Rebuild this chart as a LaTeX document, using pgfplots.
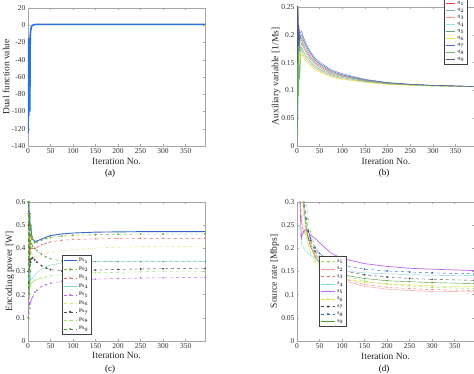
\documentclass[border=0pt]{standalone}
\usepackage{pgfplots}
\pgfplotsset{compat=1.18}
\usepackage{fontspec}
\setmainfont{Liberation Serif}

\definecolor{mblue}{rgb}{0.15,0.45,0.85}
\definecolor{qa}{rgb}{1.0,0.25,0.25}
\definecolor{qb}{rgb}{0.45,0.72,0.72}
\definecolor{qc}{rgb}{1.0,0.6,0.45}
\definecolor{qd}{rgb}{0.6,0.9,0.9}
\definecolor{qe}{rgb}{0.45,0.62,0.55}
\definecolor{qf}{rgb}{0.9,0.9,0.2}
\definecolor{qg}{rgb}{0.3,0.4,0.9}
\definecolor{qh}{rgb}{0.45,0.72,0.4}
\definecolor{qi}{rgb}{0.3,0.35,0.5}
\definecolor{pa}{rgb}{0.2,0.4,0.8}
\definecolor{pb}{rgb}{0.45,0.65,0.2}
\definecolor{pc}{rgb}{0.9,0.4,0.4}
\definecolor{pd}{rgb}{0.5,0.85,0.85}
\definecolor{pe}{rgb}{0.75,0.4,0.9}
\definecolor{pf}{rgb}{0.88,0.9,0.35}
\definecolor{pg}{rgb}{0.3,0.3,0.3}
\definecolor{ph}{rgb}{0.6,0.9,0.4}
\definecolor{pi}{rgb}{0.3,0.6,0.2}
\definecolor{sa}{rgb}{0.6,0.85,0.3}
\definecolor{sb}{rgb}{0.95,0.6,0.6}
\definecolor{sc}{rgb}{0.9,0.45,0.4}

\pgfplotsset{
  base/.style={
    scale only axis, anchor=north west,
    xmin=0, xmax=393, xtick={0,50,...,350},
    tick align=inside, major tick length=2pt,
    axis line style={gray!70}, every tick/.style={gray!70},
    ticklabel style={font=\fontsize{7.5}{8}\selectfont, text=black!80},
    label style={font=\fontsize{9.5}{10}\selectfont, text=black!85},
    /pgf/number format/assume math mode=true,
    xtick pos=both, ytick pos=both,
    xlabel={Iteration No.},
    xticklabel style={yshift=1pt},
    yticklabel style={xshift=1pt},
    scaled y ticks=false,
    clip=true,
  },
  leg/.style={
    legend cell align=left,
    legend style={font=\fontsize{5.5}{6}\selectfont, draw=black!75, line width=0.8pt, fill=white,
      inner sep=1pt, row sep=-0.6pt, anchor=north west},
  },
}

\begin{document}
\begin{tikzpicture}
\path[use as bounding box] (0,0) rectangle (474pt,-374pt);

% (a)
\begin{axis}[base, at={(28pt,-8pt)}, width=177pt, height=138pt,
  ymin=-140, ymax=20, ytick={-140,-120,...,20},
  ylabel={Dual function value},
  xlabel style={at={(axis description cs:0.5,-0.109)}, anchor=center},
  ylabel style={at={(axis description cs:-0.124,0.5)}, anchor=center}]
\addplot[mblue, line width=1.6pt] coordinates {(0,-125)(1,-15)(2,-105)(3,-15)(4,-100)(5,-12)(6,-6)(7,-3)(8,-1)(10,0)(15,0.8)(20,1)(393,1)};
\end{axis}
\node[font=\fontsize{9}{10}\selectfont] at (110pt,-173pt) {(a)};

% (b)
\begin{axis}[base, at={(297pt,-7pt)}, width=178pt, height=139pt,
  ymin=0, ymax=0.25, ytick={0,0.05,...,0.25},
  yticklabel style={/pgf/number format/fixed, /pgf/number format/precision=2},
  ylabel={Auxiliary variable [1/Ms]},
  xlabel style={at={(axis description cs:0.5,-0.109)}, anchor=center},
  ylabel style={at={(axis description cs:-0.118,0.5)}, anchor=center},
  leg, legend style={at={(rel axis cs:0.828,1.065)}},
  legend image code/.code={\draw[#1] (0pt,0pt) -- (9pt,0pt);}]
\addplot[qa, thin] coordinates {(0,0)(1,0.3)(2,0.28)(3,0.24)(4,0.22)(5,0.21)(6,0.2)(8,0.195)(10,0.19)(15,0.18)(20,0.172)(30,0.159)(40,0.15)(50,0.144)(75,0.132)(100,0.126)(150,0.118)(200,0.113)(250,0.11)(300,0.109)(393,0.107)};
\addplot[qb, thin] coordinates {(0,0)(1,0.3)(2,0.05)(3,0.25)(4,0.12)(5,0.2)(6,0.18)(8,0.19)(10,0.195)(15,0.184)(20,0.176)(30,0.162)(40,0.153)(50,0.146)(75,0.133)(100,0.127)(150,0.118)(200,0.113)(250,0.111)(300,0.109)(393,0.107)};
\addplot[qc, thin] coordinates {(0,0)(1,0.3)(2,0.3)(3,0.22)(4,0.2)(5,0.18)(6,0.175)(8,0.172)(10,0.17)(15,0.162)(20,0.156)(30,0.147)(40,0.14)(50,0.135)(75,0.126)(100,0.121)(150,0.115)(200,0.111)(250,0.11)(300,0.108)(393,0.107)};
\addplot[qd, thin] coordinates {(0,0)(1,0.2)(2,0.05)(3,0.18)(4,0.1)(5,0.14)(6,0.13)(8,0.16)(10,0.175)(15,0.167)(20,0.16)(30,0.15)(40,0.142)(50,0.137)(75,0.127)(100,0.123)(150,0.116)(200,0.112)(250,0.11)(300,0.108)(393,0.107)};
\addplot[qe, thin] coordinates {(0,0)(1,0.3)(2,0.1)(3,0.22)(4,0.15)(5,0.19)(6,0.17)(8,0.18)(10,0.185)(15,0.176)(20,0.168)(30,0.156)(40,0.148)(50,0.141)(75,0.13)(100,0.125)(150,0.117)(200,0.112)(250,0.11)(300,0.109)(393,0.107)};
\addplot[qf, thin] coordinates {(0,0)(1,0.3)(2,0.3)(3,0.25)(4,0.15)(5,0.17)(6,0.14)(8,0.16)(10,0.165)(15,0.158)(20,0.152)(30,0.144)(40,0.137)(50,0.133)(75,0.124)(100,0.12)(150,0.115)(200,0.111)(250,0.109)(300,0.108)(393,0.107)};
\addplot[qg, thin] coordinates {(0,0)(1,0.3)(2,0.25)(3,0.23)(4,0.2)(5,0.21)(6,0.2)(8,0.205)(10,0.206)(15,0.194)(20,0.184)(30,0.169)(40,0.158)(50,0.151)(75,0.137)(100,0.13)(150,0.12)(200,0.114)(250,0.111)(300,0.109)(393,0.107)};
\addplot[qh, thin] coordinates {(0,0)(1,0.3)(2,0.02)(3,0.2)(4,0.09)(5,0.15)(6,0.12)(8,0.165)(10,0.178)(15,0.169)(20,0.162)(30,0.152)(40,0.144)(50,0.138)(75,0.128)(100,0.123)(150,0.116)(200,0.112)(250,0.11)(300,0.108)(393,0.107)};
\addplot[qi, thin] coordinates {(0,0)(1,0.3)(2,0.15)(3,0.22)(4,0.18)(5,0.2)(6,0.19)(8,0.198)(10,0.2)(15,0.189)(20,0.18)(30,0.166)(40,0.155)(50,0.148)(75,0.135)(100,0.128)(150,0.119)(200,0.114)(250,0.111)(300,0.109)(393,0.107)};
\legend{$q_1$,$q_2$,$q_3$,$q_4$,$q_5$,$q_6$,$q_7$,$q_8$,$q_9$}
\end{axis}
\node[font=\fontsize{9}{10}\selectfont] at (384pt,-173pt) {(b)};

% (c)
\begin{axis}[base, at={(28pt,-202pt)}, width=177pt, height=139pt,
  ymin=0, ymax=0.6, ytick={0,0.1,...,0.6},
  yticklabel style={/pgf/number format/fixed, /pgf/number format/precision=1},
  ylabel={Encoding power [W]},
  xlabel style={at={(axis description cs:0.5,-0.101)}, anchor=center},
  ylabel style={at={(axis description cs:-0.102,0.5)}, anchor=center},
  leg, legend style={at={(rel axis cs:0.191,0.619)}},
  legend image code/.code={\draw[#1, mark repeat=2, mark phase=2] plot coordinates {(0pt,0pt) (6.5pt,0pt) (13pt,0pt)};},
  every axis plot/.append style={mark size=0.7pt, mark options={solid}}]
\addplot[pa, line width=0.9pt] coordinates {(0,0.6)(1,0.55)(2,0.6)(3,0.5)(4,0.55)(5,0.48)(6,0.5)(8,0.46)(10,0.44)(15,0.43)(20,0.432)(30,0.44)(40,0.448)(50,0.455)(75,0.462)(100,0.466)(150,0.47)(200,0.471)(250,0.472)(300,0.472)(393,0.472)};
\addplot[pb, dashed, mark=*] coordinates {(0,0.6)(1,0.35)(2,0.6)(3,0.4)(4,0.55)(5,0.42)(6,0.5)(8,0.45)(10,0.44)(15,0.425)(20,0.428)(30,0.435)(40,0.442)(50,0.447)(75,0.453)(100,0.456)(150,0.459)(200,0.461)(250,0.462)(300,0.462)(393,0.462)};
\addplot[pc, dashed, mark=x] coordinates {(0,0.55)(1,0.3)(2,0.5)(3,0.35)(4,0.45)(5,0.38)(6,0.42)(8,0.4)(10,0.4)(15,0.4)(20,0.405)(30,0.415)(40,0.422)(50,0.428)(75,0.435)(100,0.438)(150,0.441)(200,0.442)(250,0.443)(300,0.443)(393,0.443)};
\addplot[pd] coordinates {(0,0.3)(1,0.5)(2,0.2)(3,0.4)(4,0.25)(5,0.3)(6,0.26)(8,0.27)(10,0.27)(15,0.285)(20,0.295)(30,0.31)(40,0.32)(50,0.328)(75,0.336)(100,0.34)(150,0.343)(200,0.344)(250,0.345)(300,0.345)(393,0.345)};
\addplot[pe, dashed, mark=triangle*] coordinates {(0,0.1)(1,0.3)(2,0.12)(3,0.2)(4,0.14)(5,0.16)(6,0.17)(8,0.18)(10,0.19)(15,0.21)(20,0.22)(30,0.235)(40,0.243)(50,0.249)(75,0.257)(100,0.262)(150,0.267)(200,0.27)(250,0.272)(300,0.273)(393,0.274)};
\addplot[pf, dashed] coordinates {(0,0.6)(1,0.3)(2,0.55)(3,0.35)(4,0.5)(5,0.4)(6,0.45)(8,0.38)(10,0.37)(15,0.365)(20,0.367)(30,0.372)(40,0.377)(50,0.381)(75,0.389)(100,0.395)(150,0.401)(200,0.405)(250,0.407)(300,0.408)(393,0.409)};
\addplot[pg, dashed, mark=*] coordinates {(0,0.3)(1,0.5)(2,0.25)(3,0.4)(4,0.3)(5,0.35)(6,0.34)(8,0.355)(10,0.36)(15,0.35)(20,0.34)(30,0.325)(40,0.315)(50,0.308)(75,0.302)(100,0.302)(150,0.306)(200,0.309)(250,0.311)(300,0.312)(393,0.313)};
\addplot[ph, dashed, mark=x] coordinates {(0,0.1)(1,0.4)(2,0.15)(3,0.3)(4,0.2)(5,0.25)(6,0.24)(8,0.25)(10,0.255)(15,0.262)(20,0.266)(30,0.272)(40,0.277)(50,0.281)(75,0.287)(100,0.291)(150,0.295)(200,0.297)(250,0.299)(300,0.3)(393,0.3)};
\addplot[pi, dashed, mark=star] coordinates {(0,0.6)(1,0.1)(2,0.6)(3,0.2)(4,0.55)(5,0.3)(6,0.5)(8,0.42)(10,0.41)(15,0.4)(20,0.39)(30,0.375)(40,0.363)(50,0.355)(75,0.345)(100,0.342)(150,0.342)(200,0.342)(250,0.342)(300,0.342)(393,0.342)};
\legend{Ps$_1$,Ps$_2$,Ps$_3$,Ps$_4$,Ps$_5$,Ps$_6$,Ps$_7$,Ps$_8$,Ps$_9$}
\end{axis}
\node[font=\fontsize{9}{10}\selectfont] at (110pt,-369pt) {(c)};

% (d)
\begin{axis}[base, at={(297pt,-202pt)}, width=177pt, height=139pt,
  ymin=0, ymax=0.3, ytick={0,0.05,...,0.3},
  yticklabel style={/pgf/number format/fixed, /pgf/number format/precision=2},
  ylabel={Source rate [Mbps]},
  xlabel style={at={(axis description cs:0.5,-0.108)}, anchor=center},
  ylabel style={at={(axis description cs:-0.127,0.5)}, anchor=center},
  leg, legend style={at={(rel axis cs:0.125,0.61)}},
  legend image code/.code={\draw[#1, mark repeat=2, mark phase=2] plot coordinates {(0pt,0pt) (7pt,0pt) (14pt,0pt)};},
  every axis plot/.append style={mark size=0.7pt, mark options={solid}}]
\addplot[sa, dashed, mark=*] coordinates {(10,0.503)(15,0.369)(20,0.303)(25,0.263)(30,0.236)(40,0.203)(50,0.183)(75,0.156)(100,0.143)(150,0.129)(200,0.123)(250,0.119)(300,0.116)(393,0.113)};
\addplot[sb] coordinates {(5,0.35)(10,0.255)(15,0.232)(20,0.236)(25,0.22)(30,0.205)(40,0.186)(50,0.171)(75,0.144)(100,0.131)(150,0.118)(200,0.112)(250,0.109)(300,0.107)(393,0.106)};
\addplot[sc, dashed, mark=x] coordinates {(5,0.35)(10,0.26)(15,0.235)(20,0.24)(25,0.225)(30,0.21)(40,0.19)(50,0.175)(75,0.148)(100,0.135)(150,0.122)(200,0.116)(250,0.113)(300,0.111)(393,0.109)};
\addplot[pd] coordinates {(5,0.25)(10,0.21)(15,0.2)(20,0.195)(30,0.185)(40,0.177)(50,0.17)(75,0.158)(100,0.152)(150,0.147)(200,0.145)(250,0.143)(300,0.142)(393,0.141)};
\addplot[pe, line width=0.7pt] coordinates {(5,0.35)(8,0.26)(10,0.222)(12,0.23)(15,0.238)(20,0.24)(25,0.235)(30,0.228)(40,0.222)(50,0.212)(75,0.19)(100,0.178)(150,0.167)(200,0.161)(250,0.157)(300,0.155)(393,0.152)};
\addplot[pf, mark=triangle*] coordinates {(10,0.351)(12,0.311)(15,0.271)(20,0.231)(25,0.207)(30,0.191)(40,0.171)(50,0.159)(75,0.143)(100,0.135)(150,0.127)(200,0.123)(250,0.121)(300,0.119)(393,0.117)};
\addplot[pg, dashed, mark=*] coordinates {(8,0.474)(10,0.404)(12,0.357)(15,0.311)(20,0.264)(25,0.236)(30,0.217)(40,0.194)(50,0.18)(75,0.161)(100,0.152)(150,0.143)(200,0.138)(250,0.135)(300,0.133)(393,0.131)};
\addplot[pa, dashed, mark=*] coordinates {(8,0.451)(10,0.389)(12,0.347)(15,0.305)(20,0.264)(25,0.239)(30,0.222)(40,0.201)(50,0.189)(75,0.172)(100,0.164)(150,0.155)(200,0.151)(250,0.149)(300,0.147)(393,0.145)};
\addplot[pi, mark=star] coordinates {(10,0.377)(12,0.334)(15,0.291)(20,0.247)(25,0.221)(30,0.204)(40,0.182)(50,0.169)(75,0.152)(100,0.143)(150,0.135)(200,0.13)(250,0.128)(300,0.126)(393,0.124)};
\legend{s$_1$,s$_2$,s$_3$,s$_4$,s$_5$,s$_6$,s$_7$,s$_8$,s$_9$}
\end{axis}
\node[font=\fontsize{9}{10}\selectfont] at (384pt,-369pt) {(d)};
\end{tikzpicture}
\end{document}
